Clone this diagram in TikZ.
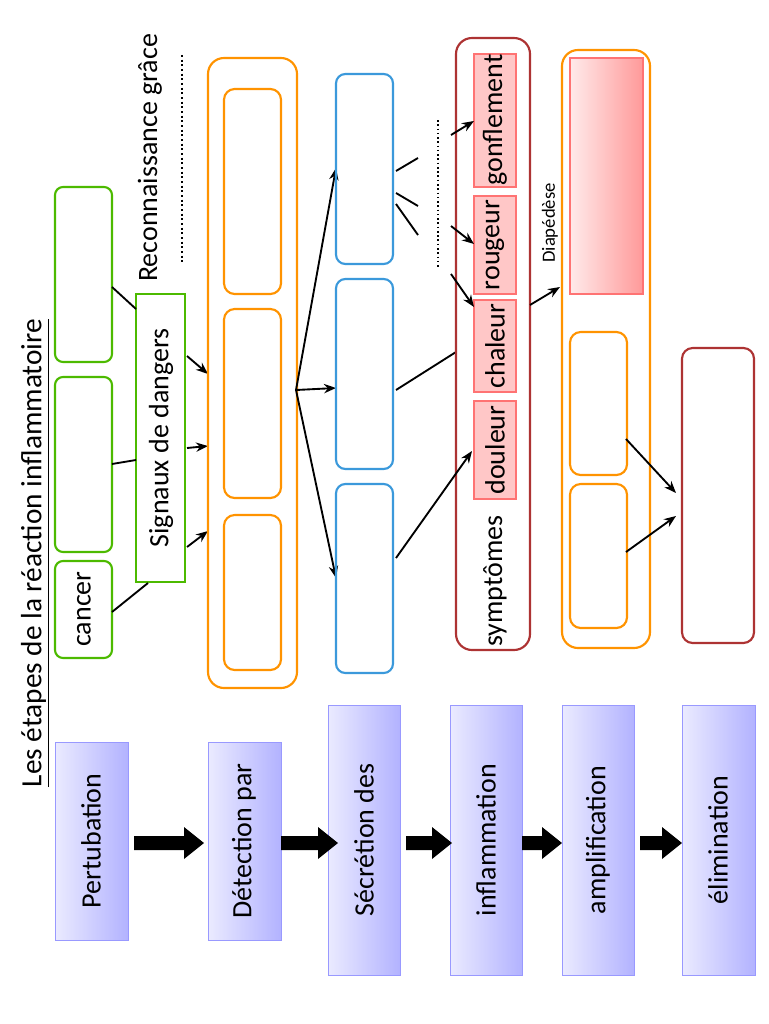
\documentclass[tikz,border=0pt]{standalone}
\usepackage{fontspec}
\setmainfont{Carlito}
\usetikzlibrary{arrows.meta}
\begin{document}
\begin{tikzpicture}[x=0.75pt,y=-0.75pt,
  gbox/.style={draw=green!55!black!60!lime,line width=1.6pt,rounded corners=6pt},
  obox/.style={draw=orange!85!yellow,line width=1.6pt,rounded corners=8pt},
  bbox/.style={draw=cyan!70!blue!80,line width=1.6pt,rounded corners=7pt},
  rbox/.style={draw=red!60!black!80,line width=1.6pt,rounded corners=8pt},
  pbox/.style={draw=red!55,fill=red!22,line width=0.8pt},
  stepbox/.style={draw=blue!40,left color=blue!8,right color=blue!30,shading angle=90,line width=0.6pt},
  lbl/.style={rotate=90,font=\fontsize{21}{24}\selectfont},
  small/.style={rotate=90,font=\fontsize{14}{16}\selectfont},
  arr/.style={-{Stealth[length=9pt,width=7pt]},line width=1.4pt},
  ln/.style={line width=1.4pt},
  blk/.style={fill=black}]
\useasboundingbox (0,0) rectangle (768,1024);
\node[lbl,font=\fontsize{22}{26}\selectfont] (title) at (35,553) {\underline{Les étapes de la réaction inflammatoire}};
% green
\draw[gbox] (55,187) rectangle (112,362);
\draw[gbox] (55,377) rectangle (112,552);
\draw[gbox] (55,561) rectangle (112,658);
\node[lbl] (cancer) at (84,609) {cancer};
\draw[draw=green!55!black!60!lime,line width=1.6pt] (136,294) rectangle (185,582);
\node[lbl] (sig) at (161,438) {Signaux de dangers};
\draw[ln] (112,287) -- (136,309);
\draw[ln] (112,464) -- (136,460);
\draw[ln] (112,612) -- (148,583);
\draw[arr] (187,356) -- (208,374);
\draw[arr] (187,448) -- (208,446);
\draw[arr] (187,547) -- (208,531);
\node[lbl] (rec) at (150,158) {Reconnaissance grâce};
\draw[line width=1.5pt,dotted] (182,55) -- (182,263);
% orange 1
\draw[obox,rounded corners=12pt] (208,58) rectangle (297,688);
\draw[obox] (224,89) rectangle (281,294);
\draw[obox] (224,309) rectangle (281,498);
\draw[obox] (224,515) rectangle (281,670);
\draw[arr] (296,390) -- (336,168);
\draw[arr] (296,390) -- (336,388);
\draw[arr] (296,390) -- (336,578);
% blue
\draw[bbox] (336,74) rectangle (393,264);
\draw[bbox] (336,279) rectangle (393,469);
\draw[bbox] (336,484) rectangle (393,673);
\draw[ln] (396,171) -- (418,158);
\draw[ln] (396,193) -- (418,206);
\draw[ln] (396,204) -- (418,235);
\draw[ln] (396,390) -- (456,352);
\draw[line width=1.2pt,dotted] (438,120) -- (438,268);
% red container
\draw[rbox,rounded corners=12pt] (456,38) rectangle (530,650);
\draw[pbox] (474,54) rectangle (516,187);
\draw[pbox] (474,196) rectangle (516,294);
\draw[pbox] (474,300) rectangle (516,392);
\draw[pbox] (474,401) rectangle (516,499);
\node[lbl] at (495,120) {gonflement};
\node[lbl] at (495,245) {rougeur};
\node[lbl] at (495,346) {chaleur};
\node[lbl] at (495,450) {douleur};
\node[lbl] at (495,581) {symptômes};
\draw[arr] (451,135) -- (474,121);
\draw[arr] (451,226) -- (474,244);
\draw[arr] (451,274) -- (474,307);
\draw[arr] (396,558) -- (472,451);
\draw[arr] (530,305) -- (560,287);
\node[small] at (550,223) {Diapédèse};
% orange 2
\draw[obox,rounded corners=12pt] (562,50) rectangle (650,648);
\draw[draw=red!55,left color=red!8,right color=red!40,shading angle=90,line width=0.8pt] (570,58) rectangle (643,294);
\draw[obox] (570,332) rectangle (627,475);
\draw[obox] (570,484) rectangle (627,628);
\draw[arr] (626,439) -- (676,493);
\draw[arr] (626,552) -- (676,516);
\draw[rbox] (682,348) rectangle (754,643);
% bottom steps
\draw[stepbox] (55,742) rectangle (128,940); \node[lbl] at (91,841) {Pertubation};
\draw[stepbox] (208,742) rectangle (281,940); \node[lbl] at (244,841) {Détection par};
\draw[stepbox] (328,705) rectangle (400,975); \node[lbl] at (364,840) {Sécrétion des};
\draw[stepbox] (450,705) rectangle (522,975); \node[lbl] at (486,840) {inflammation};
\draw[stepbox] (562,705) rectangle (634,975); \node[lbl] at (598,840) {amplification};
\draw[stepbox] (682,705) rectangle (755,975); \node[lbl] at (718,840) {élimination};
\foreach \a/\b in {134/204, 281/338, 406/452, 522/562, 640/682}{
  \fill[blk] (\a,836) -- (\b-20,836) -- (\b-20,827) -- (\b,843) -- (\b-20,859) -- (\b-20,850) -- (\a,850) -- cycle;
}
\end{tikzpicture}
\end{document}
